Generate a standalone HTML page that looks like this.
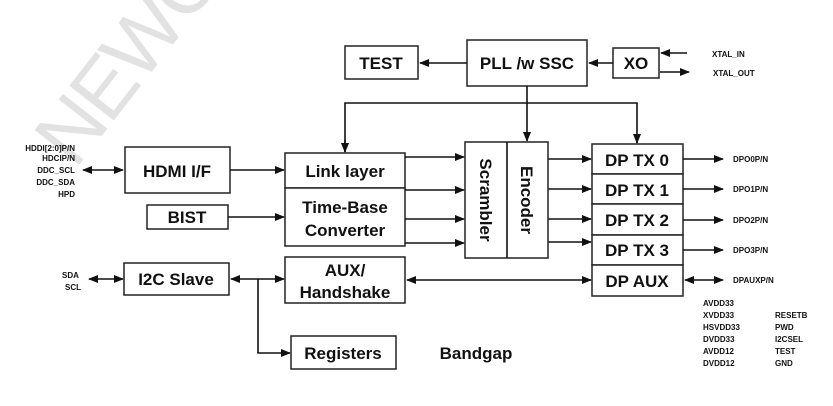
<!DOCTYPE html>
<html><head><style>
body{margin:0;background:#fff;}
svg{display:block;font-family:"Liberation Sans",sans-serif;font-weight:bold;}
.b{fill:#fff;stroke:#222;stroke-width:1.5;}
.t{font-size:17px;text-anchor:middle;fill:#111;}
.s{font-size:8px;fill:#111;}
.l{stroke:#111;stroke-width:1.6;fill:none;}
</style></head><body>
<svg width="833" height="406" viewBox="0 0 833 406">
<defs>
<marker id="a" markerWidth="10" markerHeight="8" refX="9" refY="4" orient="auto" markerUnits="userSpaceOnUse"><path d="M0,0 L10,4 L0,8z" fill="#111"/></marker>
<marker id="s" markerWidth="10" markerHeight="8" refX="1" refY="4" orient="auto" markerUnits="userSpaceOnUse"><path d="M10,0 L0,4 L10,8z" fill="#111"/></marker>
</defs>
<text x="75" y="170" transform="rotate(-52 75 170)" font-size="82" fill="#e2e2e2" font-weight="normal" letter-spacing="-3">NEWCO</text>

<rect class="b" x="345" y="46" width="73" height="33"/><text class="t" x="381" y="69">TEST</text>
<rect class="b" x="467" y="40" width="120" height="46"/><text class="t" x="527" y="69">PLL /w SSC</text>
<rect class="b" x="613" y="48" width="46" height="30"/><text class="t" x="636" y="69">XO</text>
<line class="l" x1="467" y1="63" x2="420" y2="63" marker-end="url(#a)"/>
<line class="l" x1="613" y1="63" x2="589" y2="63" marker-end="url(#a)"/>
<line class="l" x1="687" y1="53" x2="661" y2="53" marker-end="url(#a)"/>
<line class="l" x1="660" y1="72" x2="689" y2="72" marker-end="url(#a)"/>
<text class="s" x="712" y="57">XTAL_IN</text><text class="s" x="713" y="76">XTAL_OUT</text>

<line class="l" x1="527" y1="86" x2="527" y2="141" marker-end="url(#a)"/>
<polyline class="l" points="345,152 345,103 637,103 637,143" />
<line class="l" x1="345" y1="140" x2="345" y2="152" marker-end="url(#a)"/>
<line class="l" x1="637" y1="135" x2="637" y2="143" marker-end="url(#a)"/>

<text class="s" x="75" y="151" text-anchor="end">HDDI[2:0]P/N</text>
<text class="s" x="75" y="161" text-anchor="end">HDCIP/N</text>
<text class="s" x="75" y="173" text-anchor="end">DDC_SCL</text>
<text class="s" x="75" y="185" text-anchor="end">DDC_SDA</text>
<text class="s" x="75" y="197" text-anchor="end">HPD</text>
<line class="l" x1="83" y1="170" x2="123" y2="170" marker-start="url(#s)" marker-end="url(#a)"/>
<rect class="b" x="125" y="147" width="105" height="46"/><text class="t" x="177" y="177">HDMI I/F</text>
<line class="l" x1="230" y1="170" x2="284" y2="170" marker-end="url(#a)"/>

<rect class="b" x="285" y="153" width="120" height="35"/><text class="t" x="345" y="177">Link layer</text>
<rect class="b" x="285" y="188" width="120" height="58"/><text class="t" x="345" y="213">Time-Base</text><text class="t" x="345" y="236">Converter</text>
<rect class="b" x="147" y="205" width="81" height="24"/><text class="t" x="187" y="223">BIST</text>
<line class="l" x1="228" y1="217" x2="284" y2="217" marker-end="url(#a)"/>

<g class="l">
<line x1="405" y1="157" x2="464" y2="157" marker-end="url(#a)"/>
<line x1="405" y1="190" x2="464" y2="190" marker-end="url(#a)"/>
<line x1="405" y1="219" x2="464" y2="219" marker-end="url(#a)"/>
<line x1="405" y1="243" x2="464" y2="243" marker-end="url(#a)"/>
<line x1="548" y1="159" x2="591" y2="159" marker-end="url(#a)"/>
<line x1="548" y1="189" x2="591" y2="189" marker-end="url(#a)"/>
<line x1="548" y1="219" x2="591" y2="219" marker-end="url(#a)"/>
<line x1="548" y1="242" x2="591" y2="242" marker-end="url(#a)"/>
</g>
<rect class="b" x="465" y="142" width="83" height="116"/><line class="l" x1="507" y1="142" x2="507" y2="258"/>
<text class="t" transform="translate(480 200) rotate(90)" x="0" y="0">Scrambler</text>
<text class="t" transform="translate(521 200) rotate(90)" x="0" y="0">Encoder</text>

<rect class="b" x="592" y="144" width="91" height="30"/><text class="t" x="637" y="166">DP TX 0</text>
<rect class="b" x="592" y="174" width="91" height="30"/><text class="t" x="637" y="196">DP TX 1</text>
<rect class="b" x="592" y="204" width="91" height="31"/><text class="t" x="637" y="226">DP TX 2</text>
<rect class="b" x="592" y="235" width="91" height="30"/><text class="t" x="637" y="256">DP TX 3</text>
<rect class="b" x="592" y="265" width="91" height="31"/><text class="t" x="637" y="287">DP AUX</text>
<g class="l">
<line x1="683" y1="159" x2="723" y2="159" marker-end="url(#a)"/>
<line x1="683" y1="189" x2="723" y2="189" marker-end="url(#a)"/>
<line x1="683" y1="220" x2="723" y2="220" marker-end="url(#a)"/>
<line x1="683" y1="250" x2="723" y2="250" marker-end="url(#a)"/>
<line x1="685" y1="280" x2="723" y2="280" marker-start="url(#s)" marker-end="url(#a)"/>
</g>
<text class="s" x="733" y="162">DPO0P/N</text>
<text class="s" x="733" y="192">DPO1P/N</text>
<text class="s" x="733" y="223">DPO2P/N</text>
<text class="s" x="733" y="253">DPO3P/N</text>
<text class="s" x="733" y="283">DPAUXP/N</text>

<text class="s" x="62" y="278">SDA</text><text class="s" x="65" y="290">SCL</text>
<line class="l" x1="89" y1="279" x2="123" y2="279" marker-start="url(#s)" marker-end="url(#a)"/>
<rect class="b" x="124" y="263" width="105" height="32"/><text class="t" x="176" y="285">I2C Slave</text>
<line class="l" x1="231" y1="279" x2="284" y2="279" marker-start="url(#s)" marker-end="url(#a)"/>
<polyline class="l" points="258,279 258,353 290,353" marker-end="url(#a)"/>
<rect class="b" x="285" y="257" width="120" height="46"/><text class="t" x="345" y="276">AUX/</text><text class="t" x="345" y="298">Handshake</text>
<line class="l" x1="407" y1="280" x2="591" y2="280" marker-start="url(#s)" marker-end="url(#a)"/>
<rect class="b" x="291" y="336" width="105" height="33"/><text class="t" x="343" y="359">Registers</text>
<text class="t" x="476" y="359">Bandgap</text>

<g class="s">
<text x="703" y="306">AVDD33</text><text x="703" y="318">XVDD33</text><text x="703" y="330">HSVDD33</text>
<text x="703" y="342">DVDD33</text><text x="703" y="354">AVDD12</text><text x="703" y="366">DVDD12</text>
<text x="775" y="318">RESETB</text><text x="775" y="330">PWD</text><text x="775" y="342">I2CSEL</text>
<text x="775" y="354">TEST</text><text x="775" y="366">GND</text>
</g>
</svg>
</body></html>
